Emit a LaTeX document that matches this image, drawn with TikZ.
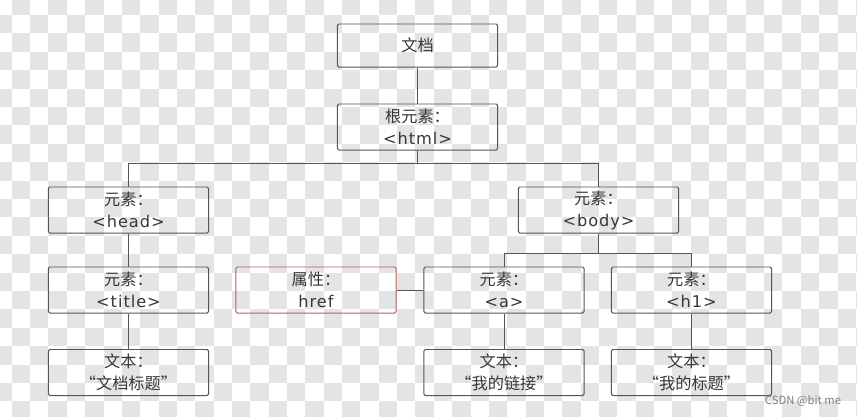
\documentclass[tikz,border=0pt]{standalone}
\usepackage{fontspec}
\setmainfont{Noto Sans CJK SC}
\newfontfamily\tagfont[LetterSpace=6]{DejaVu Sans}
\definecolor{checker}{RGB}{228,228,228}
\definecolor{boxline}{RGB}{85,85,85}
\definecolor{attrline}{RGB}{185,95,95}
\definecolor{txt}{RGB}{55,55,55}
\begin{document}
\begin{tikzpicture}[
      x=0.025cm,
      y=-0.025cm,
      box/.style={draw=boxline,line width=0.7pt,rounded corners=1pt,
        minimum width=4cm,minimum height=1.15cm,inner sep=0pt,
        align=center,text=txt,font=\fontsize{11.5}{15.5}\selectfont},
      attr/.style={box,draw=attrline},
      link/.style={draw=boxline,line width=0.7pt},
      ]
      \useasboundingbox (0,0) rectangle (857,416);
      % background
      \fill[white] (0,0) rectangle (857,416);
      \begin{scope}
        \clip (0,0) rectangle (857,416);
        \foreach \row in {0,...,23}
          \foreach \col in {0,...,47}
            {\ifodd\numexpr\row+\col\relax
               \fill[checker] ({-6.6+18.35*\col},{-3.4+18.4*\row}) rectangle +(18.35,18.4);
             \fi}
      \end{scope}
      % nodes
      \node[box,minimum height=1.075cm] (doc) at (417.5,45.5) {文档};
      \node[box] (root) at (417.5,127) {根元素：\\{\tagfont <html>}};
      \node[box] (head) at (128.5,210) {元素：\\{\tagfont <head>}};
      \node[box] (body) at (598.5,210) {元素：\\{\tagfont <body>}};
      \node[box] (title) at (128.5,290) {元素：\\{\tagfont <title>}};
      \node[attr] (href) at (316,290) {属性：\\{\tagfont href}};
      \node[box] (a) at (504,290) {元素：\\{\tagfont <a>}};
      \node[box] (h1) at (691.5,290) {元素：\\{\tagfont <h1>}};
      \node[box] (titletext) at (128.5,372.5) {文本：\\“文档标题”};
      \node[box] (atext) at (504,372.5) {文本：\\“我的链接”};
      \node[box] (h1text) at (691.5,372.5) {文本：\\“我的标题”};
      \node[text=gray,font=\fontsize{8}{8}\selectfont] (mark) at (803,401) {CSDN @bit me};
      % connectors
      \draw[link] (doc) -- (root);
      \draw[link] (root.south) -- ++(0,13) coordinate (rootbus);
      \draw[link] (rootbus) -| (head.north);
      \draw[link] (rootbus) -| (body.north);
      \draw[link] (head) -- (title);
      \draw[link] (title) -- (titletext);
      \draw[link] (body.south) -- ++(0,20) coordinate (bodybus);
      \draw[link] (bodybus) -| (a.north);
      \draw[link] (bodybus) -| (h1.north);
      \draw[link] (href) -- (a);
      \draw[link] (a) -- (atext);
      \draw[link] (h1) -- (h1text);
    \end{tikzpicture}
\end{document}
